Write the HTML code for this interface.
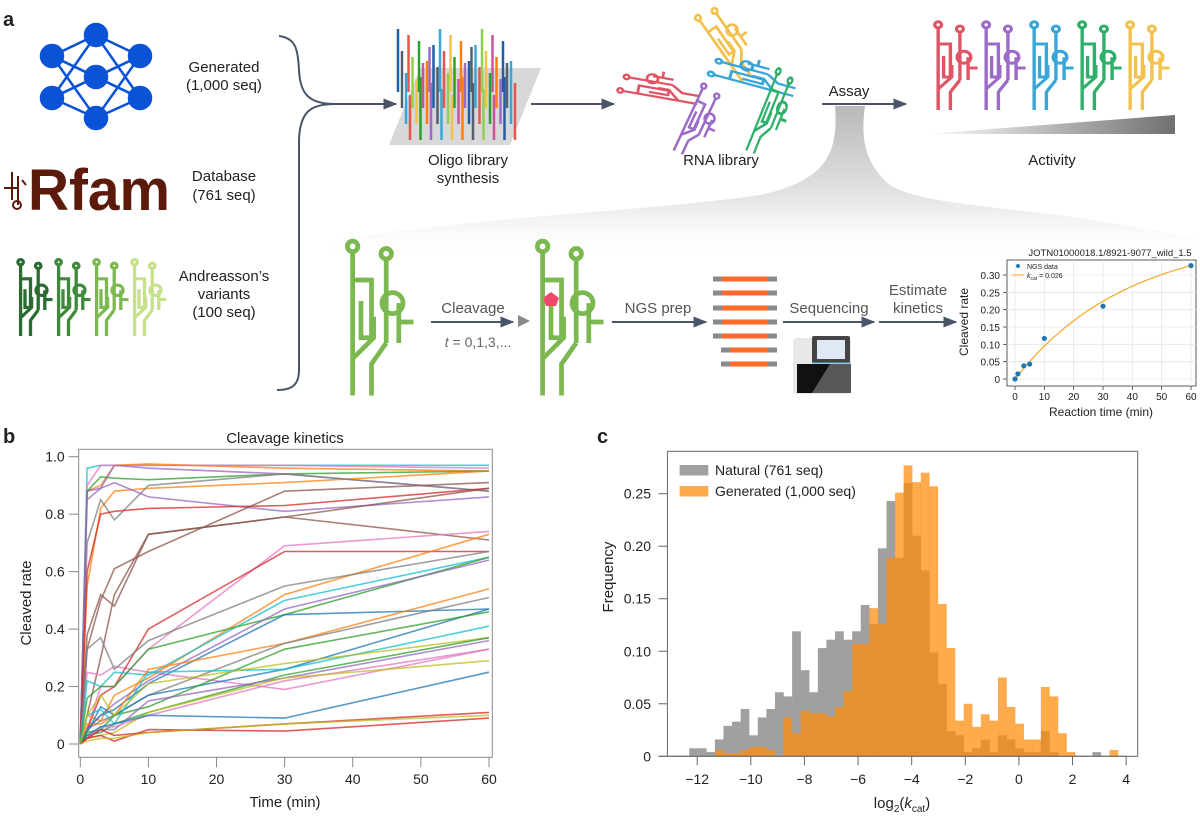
<!DOCTYPE html>
<html><head><meta charset="utf-8">
<style>
body{margin:0;background:#fff;}
svg{display:block;font-family:"Liberation Sans",sans-serif;}
text{fill:#222;}
</style></head>
<body>
<svg id="fig" width="1200" height="817" viewBox="0 0 1200 817">
<defs>
<linearGradient id="funnel" x1="0" y1="0" x2="0" y2="1">
<stop offset="0" stop-color="#b8b8b8"/><stop offset="0.6" stop-color="#e6e6e6"/><stop offset="1" stop-color="#ffffff" stop-opacity="0"/>
</linearGradient>
<linearGradient id="ramp" x1="0" y1="0" x2="1" y2="0">
<stop offset="0" stop-color="#ffffff"/><stop offset="1" stop-color="#707070"/>
</linearGradient>
<marker id="ah" viewBox="0 0 10 10" refX="9" refY="5" markerWidth="7" markerHeight="7" orient="auto"><path d="M0,1 L10,5 L0,9 Z" fill="#4a5568"/></marker>
<g id="glyph">
<path d="M12,150 V12 M12,40 H30 V95 H20 V60 M12,115 L32,95 V75 M44,62 V20 M44,62 V100 M44,100 L30,120 V150 M56,62 V100 M56,80 H70" fill="none"/>
<circle cx="12" cy="8" r="5" fill="none"/><circle cx="44" cy="15" r="5" fill="none"/><circle cx="50" cy="62" r="10" fill="none"/>
</g>
</defs>

<!-- ============ PANEL A ============ -->
<text x="3" y="26" font-size="20" font-weight="bold">a</text>

<g stroke="#0a52d6" stroke-width="2.5" fill="#0a52d6">
<line x1="96" y1="35" x2="52" y2="56"/><line x1="96" y1="35" x2="140" y2="56"/><line x1="96" y1="35" x2="52" y2="98"/><line x1="96" y1="35" x2="140" y2="98"/>
<line x1="52" y1="56" x2="96" y2="77"/><line x1="140" y1="56" x2="96" y2="77"/><line x1="52" y1="56" x2="140" y2="98"/><line x1="140" y1="56" x2="52" y2="98"/>
<line x1="52" y1="98" x2="96" y2="77"/><line x1="140" y1="98" x2="96" y2="77"/><line x1="52" y1="56" x2="96" y2="118"/><line x1="140" y1="56" x2="96" y2="118"/>
<line x1="52" y1="98" x2="96" y2="118"/><line x1="140" y1="98" x2="96" y2="118"/>
<circle cx="96" cy="35" r="11"/><circle cx="52" cy="56" r="11"/><circle cx="140" cy="56" r="11"/><circle cx="96" cy="77" r="11"/><circle cx="52" cy="98" r="11"/><circle cx="140" cy="98" r="11"/><circle cx="96" cy="118" r="11"/>
</g>
<text x="224" y="72" font-size="15" text-anchor="middle">Generated</text>
<text x="224" y="90" font-size="15" text-anchor="middle">(1,000 seq)</text>

<g>
<path d="M4,188 H18 M12,172 V200 M18,176 V205 M22,180 L26,185" stroke="#5c1a0a" stroke-width="2" fill="none"/>
<circle cx="17" cy="205" r="4" fill="none" stroke="#5c1a0a" stroke-width="2"/>
<text x="28" y="210" font-size="58" font-weight="bold" textLength="142" lengthAdjust="spacingAndGlyphs" style="fill:#5c1a0a">Rfam</text>
</g>
<text x="224" y="181" font-size="15" text-anchor="middle">Database</text>
<text x="224" y="200" font-size="15" text-anchor="middle">(761 seq)</text>

<g stroke-width="6" fill="none">
<g transform="translate(14,258) scale(0.55,0.52)" stroke="#2a6b32"><use href="#glyph"/></g>
<g transform="translate(52,258) scale(0.55,0.52)" stroke="#3e8a3a"><use href="#glyph"/></g>
<g transform="translate(90,258) scale(0.55,0.52)" stroke="#7cb850"><use href="#glyph"/></g>
<g transform="translate(128,258) scale(0.55,0.52)" stroke="#c7e08a"><use href="#glyph"/></g>
</g>
<text x="224" y="281" font-size="15" text-anchor="middle">Andreasson’s</text>
<text x="224" y="299" font-size="15" text-anchor="middle">variants</text>
<text x="224" y="317" font-size="15" text-anchor="middle">(100 seq)</text>

<path d="M279,36 C296,38 298,50 299,70 C300,95 310,104 335,104 C310,104 300,112 299,140 L299,370 C299,385 292,390 277,390" fill="none" stroke="#4a5568" stroke-width="2"/>
<line x1="335" y1="104" x2="396" y2="104" stroke="#4a5568" stroke-width="2" marker-end="url(#ah)"/>

<g>
<polygon points="420,68 541,68 510,145 389,145" fill="#d8d8d8"/>
<g id="oligoBars"></g>
</g>
<text x="468" y="165" font-size="15" text-anchor="middle">Oligo library</text>
<text x="468" y="183" font-size="15" text-anchor="middle">synthesis</text>
<line x1="531" y1="104" x2="614" y2="104" stroke="#4a5568" stroke-width="2" marker-end="url(#ah)"/>

<g stroke-width="5" fill="none">
<g transform="translate(615,95) rotate(-80) scale(0.45,0.55)" stroke="#e05565"><use href="#glyph"/></g>
<g transform="translate(690,18) rotate(-35) scale(0.55)" stroke="#f2c14e"><use href="#glyph"/></g>
<g transform="translate(700,80) rotate(25) scale(0.5)" stroke="#9b6bc7"><use href="#glyph"/></g>
<g transform="translate(705,78) rotate(-75) scale(0.45,0.6)" stroke="#3aa6d8"><use href="#glyph"/></g>
<g transform="translate(775,65) rotate(22) scale(0.45,0.6)" stroke="#2fb06a"><use href="#glyph"/></g>
</g>
<text x="721" y="165" font-size="15" text-anchor="middle">RNA library</text>

<path d="M835,106 L865,106 C862,130 860,160 890,185 C930,210 1050,205 1200,240 L1200,262 L330,262 L330,240 C500,215 640,212 760,195 C830,180 838,150 835,106 Z" fill="url(#funnel)"/>
<text x="849" y="96" font-size="15" text-anchor="middle">Assay</text>
<line x1="822" y1="104" x2="906" y2="104" stroke="#4a5568" stroke-width="2" marker-end="url(#ah)"/>

<g stroke-width="5" fill="none">
<g transform="translate(930,20) scale(0.68,0.6)" stroke="#e05565"><use href="#glyph"/></g>
<g transform="translate(978,20) scale(0.68,0.6)" stroke="#9b6bc7"><use href="#glyph"/></g>
<g transform="translate(1026,20) scale(0.68,0.6)" stroke="#3aa6d8"><use href="#glyph"/></g>
<g transform="translate(1074,20) scale(0.68,0.6)" stroke="#2fb06a"><use href="#glyph"/></g>
<g transform="translate(1122,20) scale(0.68,0.6)" stroke="#f2c14e"><use href="#glyph"/></g>
</g>
<polygon points="925,134 1175,115 1175,134" fill="url(#ramp)"/>
<text x="1052" y="165" font-size="15" text-anchor="middle">Activity</text>

<g stroke="#7cb850" stroke-width="4.5" fill="none">
<g transform="translate(340,238) scale(1.05,1.05)"><use href="#glyph"/></g>
</g>
<g stroke="#7cb850" stroke-width="4.5" fill="none">
<g transform="translate(530,238) scale(1.05,1.05)"><use href="#glyph"/></g>
<polygon points="551,292 559,298 556,306 546,306 543,298" fill="#f0486a" stroke="none"/>
</g>
<text x="473" y="313" font-size="15" text-anchor="middle" style="fill:#555">Cleavage</text>
<line x1="431" y1="322" x2="513" y2="322" stroke="#4a5568" stroke-width="2" marker-end="url(#ah)"/>
<polygon points="518,315 530,321 518,327" fill="#888"/>
<text x="478" y="347" font-size="14" text-anchor="middle" style="fill:#666"><tspan font-style="italic">t</tspan> = 0,1,3,...</text>

<text x="658" y="313" font-size="15" text-anchor="middle" style="fill:#555">NGS prep</text>
<line x1="612" y1="322" x2="706" y2="322" stroke="#4a5568" stroke-width="2" marker-end="url(#ah)"/>
<g id="reads"></g>
<text x="829" y="313" font-size="15" text-anchor="middle" style="fill:#555">Sequencing</text>
<line x1="783" y1="322" x2="874" y2="322" stroke="#4a5568" stroke-width="2" marker-end="url(#ah)"/>
<g>
<rect x="793" y="338" width="58" height="56" rx="3" fill="#e8e8e8"/>
<rect x="812" y="336" width="38" height="27" rx="2" fill="#444"/>
<rect x="817" y="340" width="28" height="19" fill="#dfe8f5"/>
<rect x="797" y="364" width="54" height="29" fill="#111"/>
<polygon points="830,364 851,364 851,393 812,393" fill="#888" opacity="0.6"/>
<line x1="812" y1="363" x2="851" y2="363" stroke="#4ab3e8" stroke-width="1"/>
</g>
<text x="918" y="295" font-size="15" text-anchor="middle" style="fill:#555">Estimate</text>
<text x="918" y="313" font-size="15" text-anchor="middle" style="fill:#555">kinetics</text>
<line x1="879" y1="322" x2="956" y2="322" stroke="#4a5568" stroke-width="2" marker-end="url(#ah)"/>

<g id="mini"></g>

<!-- ============ PANEL B ============ -->
<text x="3" y="443" font-size="20" font-weight="bold">b</text>
<text x="285" y="443" font-size="15" text-anchor="middle">Cleavage kinetics</text>
<g id="chartB"></g>
<text x="285" y="807" font-size="15" text-anchor="middle">Time (min)</text>
<text x="0" y="0" font-size="15" text-anchor="middle" transform="translate(31,603) rotate(-90)">Cleaved rate</text>

<!-- ============ PANEL C ============ -->
<text x="597" y="443" font-size="20" font-weight="bold">c</text>
<g id="chartC"></g>
<text x="0" y="0" font-size="15" text-anchor="middle" transform="translate(613,577) rotate(-90)">Frequency</text>
<text x="902" y="808" font-size="15" text-anchor="middle">log<tspan font-size="10" dy="4">2</tspan><tspan dy="-4">(</tspan><tspan font-style="italic">k</tspan><tspan font-size="10" dy="4">cat</tspan><tspan dy="-4">)</tspan></text>
</svg>

<script>
// ---------- Panel b data ----------
const times = [0, 1, 3, 5, 10, 30, 60];
const yTicksB = [0, 0.2, 0.4, 0.6, 0.8, 1.0];
const yTickLabelsB = ["0", "0.2", "0.4", "0.6", "0.8", "1.0"];
const xTicksB = [0, 10, 20, 30, 40, 50, 60];
const seriesColors = ["#17becf","#e377c2","#ff7f0e","#2ca02c","#9467bd","#ff7f0e","#7f7f7f","#9467bd","#d62728","#8c564b","#8c564b","#8c564b","#e377c2","#e377c2","#d62728","#ff7f0e","#7f7f7f","#17becf","#2ca02c","#9467bd","#1f77b4","#ff7f0e","#7f7f7f","#1f77b4","#2ca02c","#17becf","#bcbd22","#2ca02c","#9467bd","#e377c2","#bcbd22","#1f77b4","#d62728","#d62728","#bcbd22"];
const seriesValues = [
[0,.96,.97,.97,.97,.97,.97],
[0,.90,.97,.97,.97,.97,.96],
[0,.88,.90,.97,.975,.96,.95],
[0,.88,.93,.925,.92,.94,.95],
[0,.88,.89,.97,.96,.94,.88],
[0,.55,.82,.88,.89,.91,.95],
[0,.70,.85,.78,.90,.94,.88],
[0,.85,.89,.91,.86,.81,.86],
[0,.60,.80,.81,.82,.83,.89],
[0,.38,.52,.48,.73,.79,.71],
[0,.33,.50,.61,.67,.88,.91],
[0,.10,.30,.52,.73,.79,.89],
[0,.25,.24,.27,.25,.19,.33],
[0,.05,.20,.20,.33,.69,.74],
[0,.05,.17,.20,.40,.67,.67],
[0,.10,.08,.17,.23,.52,.73],
[0,.33,.37,.26,.36,.55,.67],
[0,.22,.20,.25,.24,.50,.65],
[0,.16,.20,.20,.33,.45,.65],
[0,.05,.10,.14,.22,.47,.64],
[0,.05,.10,.12,.21,.45,.47],
[0,.07,.07,.10,.26,.35,.54],
[0,.05,.08,.10,.17,.35,.51],
[0,.04,.13,.10,.17,.26,.47],
[0,.04,.05,.10,.13,.33,.46],
[0,.10,.12,.07,.25,.26,.41],
[0,.10,.17,.10,.21,.28,.37],
[0,.03,.04,.07,.11,.24,.37],
[0,.02,.05,.05,.15,.23,.36],
[0,.02,.06,.06,.10,.22,.33],
[0,.02,.03,.04,.11,.23,.29],
[0,.03,.06,.07,.10,.09,.25],
[0,.02,.03,.01,.05,.045,.09],
[0,.02,.05,.03,.04,.07,.11],
[0,.01,.02,.02,.04,.07,.10]
];

// ---------- Panel c data ----------
const binStart = -12.3;
const binWidth = 0.32;
const naturalFreq = [.0076,.0076,.004,.016,.029,.033,.045,.02,.037,.045,.061,.057,.119,.082,.061,.103,.111,.119,.111,.119,.144,.126,.198,.243,.189,.26,.21,.177,.099,.069,.024,.02,.004,.0076,.016,.004,.02,.016,.0076,.004,.004,.024,.004,0,0,0,0,.004,0,0];
const generatedFreq = [0,0,0,.006,.003,.003,.006,.009,.009,.006,0,.037,.022,.043,.041,.041,.038,.047,.062,.107,.107,.141,.126,.189,.251,.277,.261,.27,.257,.145,.103,.034,.05,.028,.04,.034,.075,.047,.031,.016,.016,.066,.057,.022,.004,0,0,0,0,.006];
const xTicksC = [-12, -10, -8, -6, -4, -2, 0, 2, 4];
const yTicksC = [0, 0.05, 0.10, 0.15, 0.20, 0.25];
const yTickLabelsC = ["0", "0.05", "0.10", "0.15", "0.20", "0.25"];
const legendLabels = ["Natural (761 seq)", "Generated (1,000 seq)"];

// ---------- Mini chart data ----------
const miniTimes = [0, 1, 3, 5, 10, 30, 60];
const miniRates = [0, .015, .038, .043, .117, .21, .327];
const miniKcat = 0.026;
const miniYTicks = [0, 0.05, 0.10, 0.15, 0.20, 0.25, 0.30];
const miniYTickLabels = ["0", "0.05", "0.10", "0.15", "0.20", "0.25", "0.30"];
const miniXTicks = [0, 10, 20, 30, 40, 50, 60];

const NS = "http://www.w3.org/2000/svg";
function mk(tag, attrs, parent){const e=document.createElementNS(NS,tag);for(const k in attrs)e.setAttribute(k,attrs[k]);parent.appendChild(e);return e;}

// decorative oligo bars
(function(){
  const g=document.getElementById('oligoBars');
  const cols=["#e8554e","#2ca02c","#9b6bc7","#3aa6d8","#f2c14e","#ff7f0e","#555e6e","#8fd14f","#c6569b","#1f5fa8"];
  for(let r=0;r<4;r++){for(let c=0;c<11;c++){
    const x=410+c*10.5-r*7+ (r*3), yb=140-r*16, h=45+((c*7+r*5)%4)*6;
    const ln=mk('line',{x1:x,y1:yb,x2:x,y2:yb-h,stroke:cols[(c+r*3)%10],'stroke-width':2.5},g);
    
    
  }}
})();

// NGS reads
(function(){
  const g=document.getElementById('reads');
  const ys=[279,293,308,322,336,350,364];
  ys.forEach((y,i)=>{
    const x0=i>=5?721:713;
    const r=mk('rect',{x:x0,y:y-2.5,width:777-x0,height:5,fill:'#8a8a8a'},g);
    
    
    mk('rect',{x:i>=5?730:722,y:y-2.5,width:i>=5?38:46,height:5,fill:'#ff6a2b'},g);
  });
})();

// ---------- Mini chart ----------
(function(){
  const g=document.getElementById('mini');
  const L=1007,R=1196,T=260,B=386;
  const x=t=>1015+(t/60)*176;
  const y=v=>379-(v/0.30)*104;
  mk('rect',{x:L,y:T,width:R-L,height:B-T,fill:'#fff',stroke:'#333','stroke-width':0.8},g);
  miniYTicks.forEach((v,i)=>{
    mk('line',{x1:L,x2:R,y1:y(v),y2:y(v),stroke:'#e6e6e6','stroke-width':0.8},g);
    mk('line',{x1:L-4,x2:L,y1:y(v),y2:y(v),stroke:'#333','stroke-width':0.8},g);
    const t=mk('text',{x:L-7,y:y(v)+4,'font-size':10,'text-anchor':'end'},g);t.textContent=miniYTickLabels[i];
    
    
  });
  miniXTicks.forEach(v=>{
    mk('line',{x1:x(v),x2:x(v),y1:T,y2:B,stroke:'#e6e6e6','stroke-width':0.8},g);
    mk('line',{x1:x(v),x2:x(v),y1:B,y2:B+4,stroke:'#333','stroke-width':0.8},g);
    const t=mk('text',{x:x(v),y:B+14,'font-size':10,'text-anchor':'middle'},g);t.textContent=v;
    
    
  });
  const a=miniRates[miniRates.length-1]/(1-Math.exp(-miniKcat*60));
  let d='';for(let t=0;t<=60;t+=1){d+=(t?'L':'M')+x(t).toFixed(1)+','+y(a*(1-Math.exp(-miniKcat*t))).toFixed(1);}
  const fit=mk('path',{d:d,fill:'none',stroke:'#f5a623','stroke-width':1.2},g);
  
  
  miniTimes.forEach((t,i)=>{
    const c=mk('circle',{cx:x(t),cy:y(miniRates[i]),r:2.6,fill:'#1f77b4'},g);
    
    
  });
  mk('circle',{cx:1018,cy:266,r:2,fill:'#1f77b4'},g);
  let t=mk('text',{x:1027,y:269,'font-size':7},g);t.textContent='NGS data';
  mk('line',{x1:1012,x2:1024,y1:275,y2:275,stroke:'#f5a623'},g);
  t=mk('text',{x:1027,y:278,'font-size':7},g);t.innerHTML='<tspan font-style="italic">k</tspan><tspan font-size="5" dy="2">cat</tspan><tspan dy="-2"> = 0.026</tspan>';
  t=mk('text',{x:1110,y:256,'font-size':9.5,'text-anchor':'middle'},g);t.textContent='JOTN01000018.1/8921-9077_wild_1.5';
  
  
  t=mk('text',{x:0,y:0,'font-size':12,'text-anchor':'middle',transform:'translate(968,322) rotate(-90)'},g);t.textContent='Cleaved rate';
  t=mk('text',{x:1101,y:416,'font-size':12,'text-anchor':'middle'},g);t.textContent='Reaction time (min)';
  
  
})();

// ---------- Panel b ----------
(function(){
  const g=document.getElementById('chartB');
  const L=78.7,R=492.3,T=449.3,B=757.3;
  const x=t=>80.3+(t/60)*408.7;
  const y=v=>744-v*287.3;
  mk('rect',{x:L,y:T,width:R-L,height:B-T,fill:'none',stroke:'#888','stroke-width':1},g);
  yTicksB.forEach((v,i)=>{
    mk('line',{x1:L-10,x2:L,y1:y(v),y2:y(v),stroke:'#888','stroke-width':1},g);
    const t=mk('text',{x:L-14,y:y(v)+5,'font-size':14,'text-anchor':'end'},g);t.textContent=yTickLabelsB[i];
    
    
  });
  xTicksB.forEach(v=>{
    mk('line',{x1:x(v),x2:x(v),y1:B,y2:B+10,stroke:'#888','stroke-width':1},g);
    const t=mk('text',{x:x(v),y:784,'font-size':14,'text-anchor':'middle'},g);t.textContent=v;
    
    
  });
  seriesValues.forEach((s,i)=>{
    const d=s.map((v,j)=>(j?'L':'M')+x(times[j]).toFixed(1)+','+y(v).toFixed(1)).join('');
    const p=mk('path',{d:d,fill:'none',stroke:seriesColors[i],'stroke-width':1.6,'stroke-opacity':0.75},g);
    
    
  });
})();

// ---------- Panel c ----------
(function(){
  const g=document.getElementById('chartC');
  const L=667.4,R=1137.7,T=451.3,B=756.3;
  const x=v=>697.2+(v+12)*26.81;
  const y=v=>756.3-v*1050.4;
  mk('rect',{x:L,y:T,width:R-L,height:B-T,fill:'none',stroke:'#666','stroke-width':1},g);
  naturalFreq.forEach((f,i)=>{
    if(!f)return;
    const x0=x(binStart+i*binWidth),x1=x(binStart+(i+1)*binWidth);
    const r=mk('rect',{x:x0,y:y(f),width:x1-x0+0.2,height:y(0)-y(f),fill:'#a0a0a0'},g);
    
    
  });
  generatedFreq.forEach((f,i)=>{
    if(!f)return;
    const x0=x(binStart+i*binWidth),x1=x(binStart+(i+1)*binWidth);
    const r=mk('rect',{x:x0,y:y(f),width:x1-x0+0.2,height:y(0)-y(f),fill:'#fc8c0a','fill-opacity':0.73},g);
    
    
  });
  mk('line',{x1:658.5,x2:1126.5,y1:B,y2:B,stroke:'#666','stroke-width':1},g);
  yTicksC.forEach((v,i)=>{
    mk('line',{x1:658.5,x2:L,y1:y(v),y2:y(v),stroke:'#666','stroke-width':1},g);
    const t=mk('text',{x:651,y:y(v)+5,'font-size':14,'text-anchor':'end'},g);t.textContent=yTickLabelsC[i];
    
    
  });
  xTicksC.forEach(v=>{
    mk('line',{x1:x(v),x2:x(v),y1:B,y2:B+9,stroke:'#666','stroke-width':1},g);
    const t=mk('text',{x:x(v),y:784,'font-size':14,'text-anchor':'middle'},g);t.textContent=(v<0?'\u2212'+(-v):v);
    
    
  });
  const sw=[{fill:'#a0a0a0',op:1,y:465},{fill:'#fc8c0a',op:0.73,y:486}];
  sw.forEach((s,i)=>{
    const r=mk('rect',{x:679.6,y:s.y,width:28.7,height:10.5,fill:s.fill,'fill-opacity':s.op},g);
    
    
    const t=mk('text',{x:715,y:s.y+10,'font-size':14},g);t.textContent=legendLabels[i];
    
    
  });
})();
</script>
</body></html>
